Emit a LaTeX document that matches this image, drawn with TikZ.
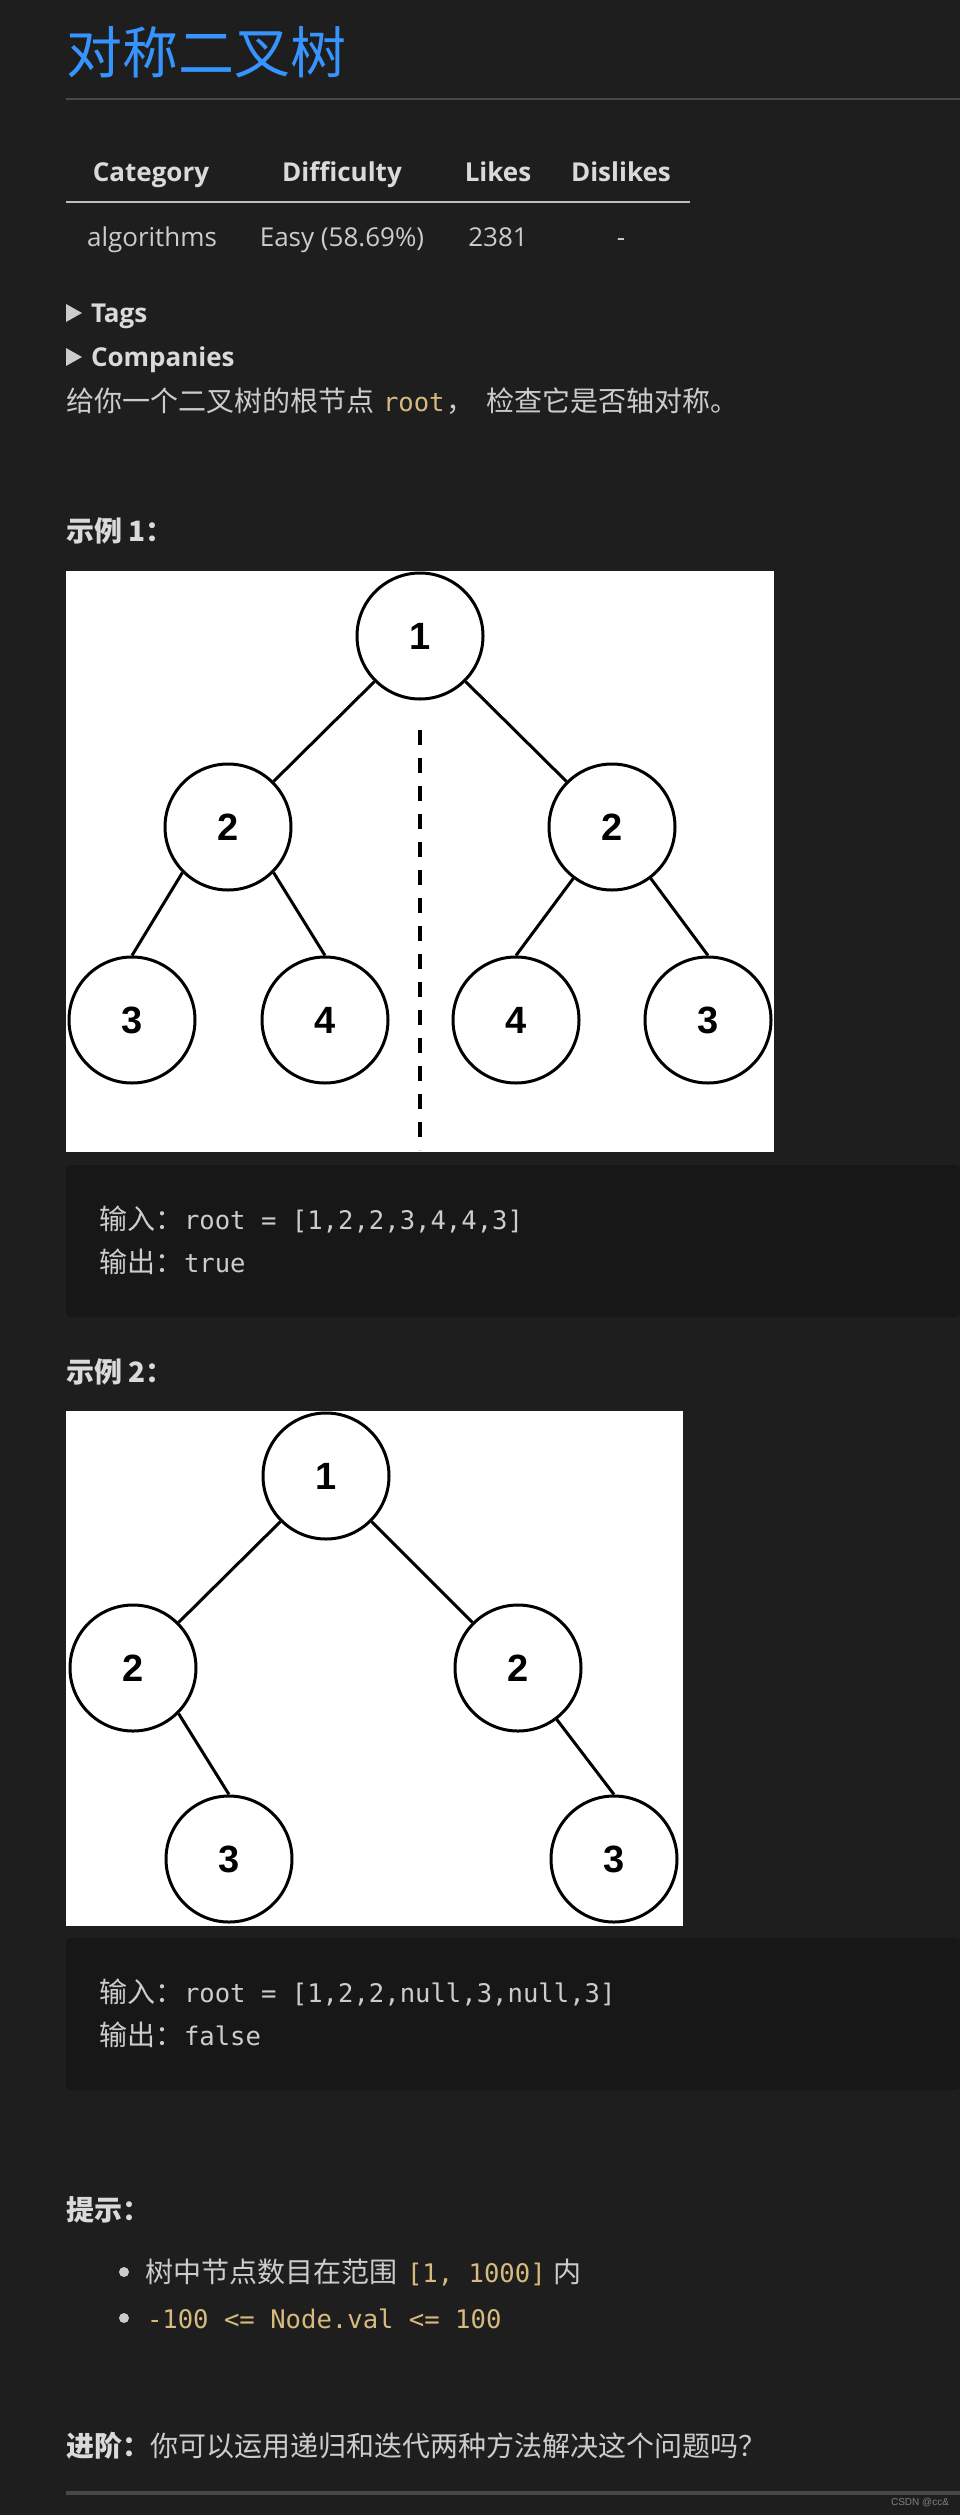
\documentclass[tikz,border=0pt]{standalone}
\usepackage{fontspec}
\setmainfont{Open Sans}
\newfontfamily\cjk{Noto Sans CJK SC}
\newfontfamily\monof{DejaVu Sans Mono}
\newfontfamily\arialf{Liberation Sans}
\definecolor{bg}{RGB}{30,30,30}
\definecolor{codebg}{RGB}{23,23,23}
\definecolor{fg}{RGB}{204,204,204}
\definecolor{fgb}{RGB}{218,218,218}
\definecolor{orng}{RGB}{215,186,125}
\definecolor{ttl}{RGB}{55,148,255}
\definecolor{rule}{RGB}{72,72,72}
\definecolor{thline}{RGB}{190,190,190}
\begin{document}
\begin{tikzpicture}[x=1pt,y=-1pt,
  txt/.style={inner sep=0pt,outer sep=0pt,text=fg,anchor=base west},
  cjkt/.style={txt,font=\cjk\fontsize{28}{34}\selectfont},
  cjkb/.style={txt,text=fgb,font=\cjk\bfseries\fontsize{28}{34}\selectfont},
  monot/.style={txt,font=\monof\fontsize{25.6}{30}\selectfont},
  hl/.style={text=orng},
  latb/.style={txt,text=fgb,font=\bfseries\fontsize{26}{32}\selectfont},
  latr/.style={txt,font=\fontsize{26}{32}\selectfont},
  tnode/.style={circle,draw=black,line width=3pt,fill=white,minimum size=126pt,inner sep=0pt,font=\arialf\bfseries\fontsize{38}{40}\selectfont},
  tedge/.style={line width=3pt,black},
  codebox/.style={fill=codebg,rounded corners=4pt}]
\fill[bg] (0,0) rectangle (960,2515);
\useasboundingbox (0,0) rectangle (960,2515);

% title
\node[txt,text=ttl,font=\cjk\fontsize{56}{64}\selectfont] (title) at (66,74) {对称二叉树};
\draw[rule,line width=2pt] (66,99) -- (960,99);

% table
\node[latb,anchor=base] (h1) at (151,182) {Category};
\node[latb,anchor=base] (h2) at (342,182) {Difficulty};
\node[latb,anchor=base] (h3) at (498,182) {Likes};
\node[latb,anchor=base] (h4) at (621,182) {Dislikes};
\draw[thline,line width=2pt] (66,202) -- (690,202);
\node[latr,anchor=base] (d1) at (152,247) {algorithms};
\node[latr,anchor=base] (d2) at (342,247) {Easy (58.69\%)};
\node[latr,anchor=base] (d3) at (498,247) {2381};
\node[latr,anchor=base] (d4) at (621,247) {-};

% tags / companies
\fill[fg] (66,304) -- (66,322) -- (82,313) -- cycle;
\node[latb] (tags) at (91,322) {Tags};
\fill[fg] (66,348) -- (66,366) -- (82,357) -- cycle;
\node[latb] (comp) at (91,366) {Companies};

% description
\node[cjkt] (desc1) at (66,411) {给你一个二叉树的根节点};
\node[monot,hl] (desc2) at (383,411) {root};
\node[cjkt] (desc3) at (446,411) {，};
\node[cjkt] (desc4) at (486,411) {检查它是否轴对称。};

% example 1
\node[cjkb] (ex1) at (66,541) {示例 1：};
\fill[white] (66,571) rectangle (774,1152);
\draw[line width=4pt,black,dash pattern=on 15pt off 13pt] (420,730) -- (420,1150);
\node[tnode] (a1) at (420,636) {1};
\node[tnode] (a2l) at (228,827) {2};
\node[tnode] (a2r) at (612,827) {2};
\node[tnode] (a3) at (132,1020) {3};
\node[tnode] (a4) at (325,1020) {4};
\node[tnode] (b4) at (516,1020) {4};
\node[tnode] (b3) at (708,1020) {3};
\draw[tedge] (a1.-135) -- (a2l.45);
\draw[tedge] (a1.-45) -- (a2r.135);
\draw[tedge] (a2l.-135) -- (a3.north);
\draw[tedge] (a2l.-45) -- (a4.north);
\draw[tedge] (a2r.-127) -- (b4.north);
\draw[tedge] (a2r.-53) -- (b3.north);

\fill[codebox] (66,1165) rectangle (960,1317);
\node[cjkt] (c1a) at (99,1229) {输入：};
\node[monot] (c1b) at (184,1229) {root = [1,2,2,3,4,4,3]};
\node[cjkt] (c2a) at (99,1272) {输出：};
\node[monot] (c2b) at (184,1272) {true};

% example 2
\node[cjkb] (ex2) at (66,1382) {示例 2：};
\fill[white] (66,1411) rectangle (683,1926);
\node[tnode] (e1) at (326,1476) {1};
\node[tnode] (e2l) at (133,1668) {2};
\node[tnode] (e2r) at (518,1668) {2};
\node[tnode] (e3l) at (229,1859) {3};
\node[tnode] (e3r) at (614,1859) {3};
\draw[tedge] (e1.-135) -- (e2l.45);
\draw[tedge] (e1.-45) -- (e2r.135);
\draw[tedge] (e2l.-45) -- (e3l.north);
\draw[tedge] (e2r.-53) -- (e3r.north);

\fill[codebox] (66,1938) rectangle (960,2090);
\node[cjkt] (f1a) at (99,2002) {输入：};
\node[monot] (f1b) at (184,2002) {root = [1,2,2,null,3,null,3]};
\node[cjkt] (f2a) at (99,2045) {输出：};
\node[monot] (f2b) at (184,2045) {false};

% hints
\node[cjkb] (hint) at (66,2220) {提示：};
\fill[fg] (124,2272) circle (5pt);
\node[cjkt] (b1a) at (145,2282) {树中节点数目在范围};
\node[monot,hl] (b1b) at (407,2282) {[1, 1000]};
\node[cjkt] (b1c) at (553,2282) {内};
\fill[fg] (124,2318) circle (5pt);
\node[monot,hl] (b2) at (147,2328) {-100 <= Node.val <= 100};

% advanced
\node[cjkb] (adv) at (66,2456) {进阶：};
\node[cjkt] (advt) at (150,2456) {你可以运用递归和迭代两种方法解决这个问题吗？};
\draw[rule,line width=4pt] (66,2493) -- (960,2493);
\node[inner sep=0pt,text={rgb,255:red,130;green,130;blue,130},font=\arialf\fontsize{10}{12}\selectfont] (wm) at (920,2503) {CSDN @cc\&};
\end{tikzpicture}
\end{document}
